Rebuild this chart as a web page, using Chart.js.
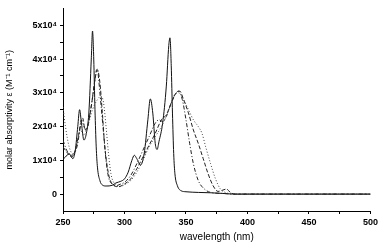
<!DOCTYPE html>
<html>
<head>
<meta charset="utf-8">
<script src="https://cdn.jsdelivr.net/npm/chart.js@4"></script>
<style>
  html, body { margin: 0; padding: 0; background: #fff; }
  #wrap { width: 381px; height: 243px; position: relative; }
</style>
</head>
<body>
<div id="wrap"><canvas id="spectraChart"></canvas></div>
<script>
// ================= DATA =================
const xTicks = [250, 275, 300, 325, 350, 375, 400, 425, 450, 475, 500];
const yTicks = [0, 5000, 10000, 15000, 20000, 25000, 30000, 35000, 40000, 45000, 50000];
const yLabels = ["0", "", "1x10\u2074", "", "2x10\u2074", "", "3x10\u2074", "", "4x10\u2074", "", "5x10\u2074"];

// solid
const wlSolid = [250, 252, 255, 258, 260, 262, 263.5, 265, 267, 269, 271, 273, 274, 275, 276, 277, 278, 280, 282, 285, 290, 293, 297, 300, 303, 306, 308, 310, 313, 316, 319, 321, 323, 325, 326.5, 328, 331, 334, 336, 337, 338, 339, 340, 341, 343, 346, 350, 360, 370, 380, 390, 500];
const absSolid = [10300, 11000, 12000, 10500, 13000, 20000, 25000, 21000, 16000, 18000, 24000, 40000, 48300, 40000, 25000, 14000, 8000, 4000, 2700, 2400, 2600, 3300, 3800, 4500, 6500, 10000, 11500, 10500, 8600, 12000, 22000, 28200, 24000, 15000, 13200, 15500, 21000, 32000, 44000, 46300, 38000, 24000, 12000, 6000, 2500, 1000, 700, 500, 400, 200, 0, 0];

// dash-dot
const wlDashDot = [250, 253, 256, 259, 262, 265, 267, 269, 272, 275, 277, 278, 279, 281, 283, 285, 287, 290, 293, 297, 300, 305, 310, 315, 320, 325, 328, 331, 334, 338, 342, 344, 347, 350, 353, 356, 360, 365, 370, 380, 390, 500];
const absDashDot = [16000, 13000, 11500, 12000, 15000, 22000, 20000, 19000, 24000, 31000, 36500, 37000, 34000, 26000, 18000, 10000, 5000, 3000, 2500, 3000, 3500, 5500, 9000, 13000, 17000, 21000, 22000, 21500, 23000, 27000, 30000, 30500, 28000, 22000, 15000, 9000, 4000, 1500, 500, 200, 0, 0];

// dashed
const wlDashed = [250, 254, 257, 260, 263, 266, 268, 270, 273, 276, 278, 280, 282, 284, 287, 290, 295, 300, 305, 310, 315, 320, 325, 330, 334, 338, 342, 345, 348, 352, 356, 360, 364, 368, 372, 376, 380, 383, 386, 390, 500];
const absDashed = [14000, 12000, 11000, 13000, 18000, 22500, 19000, 20000, 26000, 34000, 36800, 33000, 24000, 14000, 6000, 3000, 2200, 3000, 4500, 7500, 11000, 14500, 18000, 22000, 23500, 27000, 30000, 30500, 28000, 24000, 19000, 15000, 10500, 6000, 2500, 800, 1200, 1500, 500, 0, 0];

// dotted
const wlDotted = [250, 252, 255, 258, 261, 264, 267, 270, 274, 278, 281, 283, 285, 287, 289, 292, 296, 300, 305, 310, 315, 320, 325, 330, 335, 340, 344, 348, 352, 356, 360, 363, 366, 370, 374, 378, 382, 390, 500];
const absDotted = [25800, 20000, 14000, 12000, 14000, 19000, 17500, 20000, 25000, 28000, 29000, 27000, 20000, 12000, 6000, 3000, 2200, 2800, 4000, 6500, 10000, 14000, 17000, 20000, 24000, 29000, 30000, 28000, 25000, 22000, 20000, 18000, 14000, 9000, 4500, 1500, 500, 0, 0];

const toPoints = (xs, ys) => xs.map((x, i) => ({ x: x, y: ys[i] }));

const tickFont = { family: "Liberation Sans", size: 9, weight: "bold" };

// ================= SPECTRA =================
new Chart(document.getElementById("spectraChart"), {
    type: "line",
    data: {
        datasets: [
            { data: toPoints(wlDotted, absDotted), borderColor: "#444", borderWidth: 1, borderDash: [1, 2] },
            { data: toPoints(wlDashed, absDashed), borderColor: "#222", borderWidth: 1, borderDash: [4, 2] },
            { data: toPoints(wlDashDot, absDashDot), borderColor: "#222", borderWidth: 1, borderDash: [4, 2, 1, 2] },
            { data: toPoints(wlSolid, absSolid), borderColor: "#111", borderWidth: 1 }
        ]
    },
    options: {
        responsive: true,
        maintainAspectRatio: false,
        animation: false,
        layout: { padding: { top: 1, right: 7, left: 0, bottom: 0 } },
        elements: {
            point: { radius: 0 },
            line: { cubicInterpolationMode: "monotone", fill: false }
        },
        plugins: { legend: { display: false }, tooltip: { enabled: false } },
        scales: {
            x: {
                type: "linear",
                min: 250,
                max: 500,
                afterBuildTicks: s => { s.ticks = xTicks.map(v => ({ value: v })); },
                afterFit: s => { s.height = 32; },
                border: { color: "#000", width: 1 },
                grid: { drawOnChartArea: false, tickLength: 3, color: "#000" },
                ticks: {
                    autoSkip: false,
                    maxRotation: 0,
                    padding: 3,
                    color: "#000",
                    font: tickFont,
                    callback: v => (v % 50 === 0 ? String(v) : "")
                },
                title: {
                    display: true,
                    text: "wavelength (nm)",
                    color: "#000",
                    font: { family: "Liberation Sans", size: 10 },
                    padding: { top: 0, bottom: 0 }
                }
            },
            y: {
                min: -5000,
                max: 55000,
                afterBuildTicks: s => { s.ticks = yTicks.map(v => ({ value: v })); },
                afterFit: s => { s.width = 63; },
                border: { color: "#000", width: 1 },
                grid: { drawOnChartArea: false, tickLength: 3, color: "#000" },
                ticks: {
                    autoSkip: false,
                    padding: 3,
                    color: "#000",
                    font: tickFont,
                    callback: (v, i) => yLabels[i]
                },
                title: {
                    display: true,
                    text: "molar absorptivity \u03b5 (M\u207b\u00b9 cm\u207b\u00b9)",
                    color: "#000",
                    font: { family: "Liberation Sans", size: 9 },
                    padding: { top: 4, bottom: 2 }
                }
            }
        }
    }
});
</script>
</body>
</html>
